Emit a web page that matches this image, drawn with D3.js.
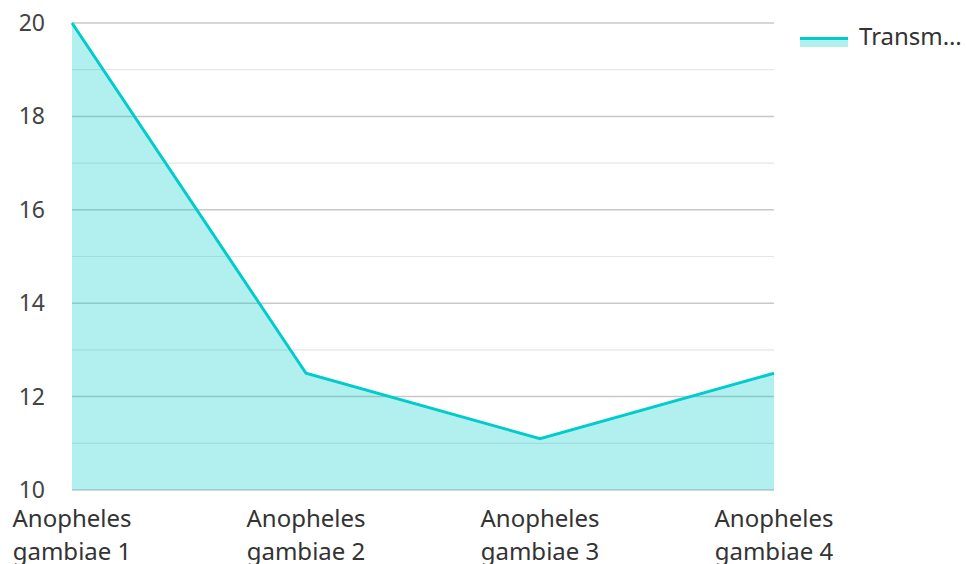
<!DOCTYPE html>
<html lang="en">
<head>
    <meta charset="UTF-8">
    <title>Transmission chart</title>
    <script src="https://cdn.jsdelivr.net/npm/d3@7"></script>
    <style>
        html, body {
            margin: 0;
            background: #fff;
            font-family: "Noto Sans", "Open Sans", sans-serif;
        }
        #vis { width: 966px; height: 564px; }
    </style>
</head>
<body>
    <div id="vis"></div>
    <script>
        // data
        var categories = ["Anopheles gambiae 1", "Anopheles gambiae 2", "Anopheles gambiae 3", "Anopheles gambiae 4"];
        var values = [20, 12.5, 11.1, 12.5];
        var seriesName = "Transmission";
        var yTicks = [10, 12, 14, 16, 18, 20];

        var margin = {top: 23, left: 72, right: 192, bottom: 74};
        var width = 966 - margin.left - margin.right;
        var height = 564 - margin.top - margin.bottom;
        var lineColor = "#00cccc";

        var svg = d3.select("#vis").append("svg")
            .attr("width", 966)
            .attr("height", 564);

        var g = svg.append("g")
            .attr("transform", "translate(" + margin.left + "," + margin.top + ")");

        var x = d3.scalePoint().domain(categories).range([0, width]);
        var y = d3.scaleLinear().domain([10, 20]).range([height, 0]);

        // gridlines: major every 2, minor in between
        var gridVals = d3.range(10, 21, 1);
        g.selectAll(".grid").data(gridVals).enter().append("line")
            .attr("x1", 0).attr("x2", width)
            .attr("y1", function(d){ return y(d); })
            .attr("y2", function(d){ return y(d); })
            .attr("stroke", function(d){ return d % 2 === 0 ? "#c8c8c8" : "#e6e6e6"; })
            .attr("stroke-width", function(d){ return d % 2 === 0 ? 1.5 : 1.2; });

        var data = categories.map(function(c, i){ return {cat: c, v: values[i]}; });

        var area = d3.area()
            .x(function(d){ return x(d.cat); })
            .y0(height)
            .y1(function(d){ return y(d.v); });

        var line = d3.line()
            .x(function(d){ return x(d.cat); })
            .y(function(d){ return y(d.v); });

        g.append("path").datum(data)
            .attr("d", area)
            .attr("fill", lineColor)
            .attr("fill-opacity", 0.3);

        g.append("path").datum(data)
            .attr("d", line)
            .attr("fill", "none")
            .attr("stroke", lineColor)
            .attr("stroke-width", 3);

        // y labels
        g.selectAll(".ylab").data(yTicks).enter().append("text")
            .attr("x", -27)
            .attr("y", function(d){ return y(d); })
            .attr("dy", "0.35em")
            .attr("text-anchor", "end")
            .attr("font-size", 23)
            .attr("fill", "#444")
            .text(function(d){ return d; });

        // x labels, two lines each
        var xl = g.selectAll(".xlab").data(categories).enter().append("text")
            .attr("text-anchor", "middle")
            .attr("font-size", 24)
            .attr("fill", "#333")
            .attr("transform", function(d){ return "translate(" + x(d) + "," + (height + 37) + ")"; });
        xl.append("tspan").attr("x", 0).attr("y", 0)
            .text(function(d){ return d.split(" ")[0]; });
        xl.append("tspan").attr("x", 0).attr("y", 33)
            .text(function(d){ return d.split(" ").slice(1).join(" "); });

        // legend
        var leg = svg.append("g").attr("transform", "translate(800,37)");
        leg.append("rect").attr("x", 0).attr("y", 0).attr("width", 48).attr("height", 10)
            .attr("fill", lineColor).attr("fill-opacity", 0.3);
        leg.append("line").attr("x1", 0).attr("x2", 48).attr("y1", 1.5).attr("y2", 1.5)
            .attr("stroke", lineColor).attr("stroke-width", 3);
        leg.append("text").attr("x", 59).attr("y", 0).attr("dy", "0.35em")
            .attr("font-size", 24).attr("fill", "#333")
            .text(seriesName.slice(0, 6) + "\u2026");
    </script>
</body>
</html>
